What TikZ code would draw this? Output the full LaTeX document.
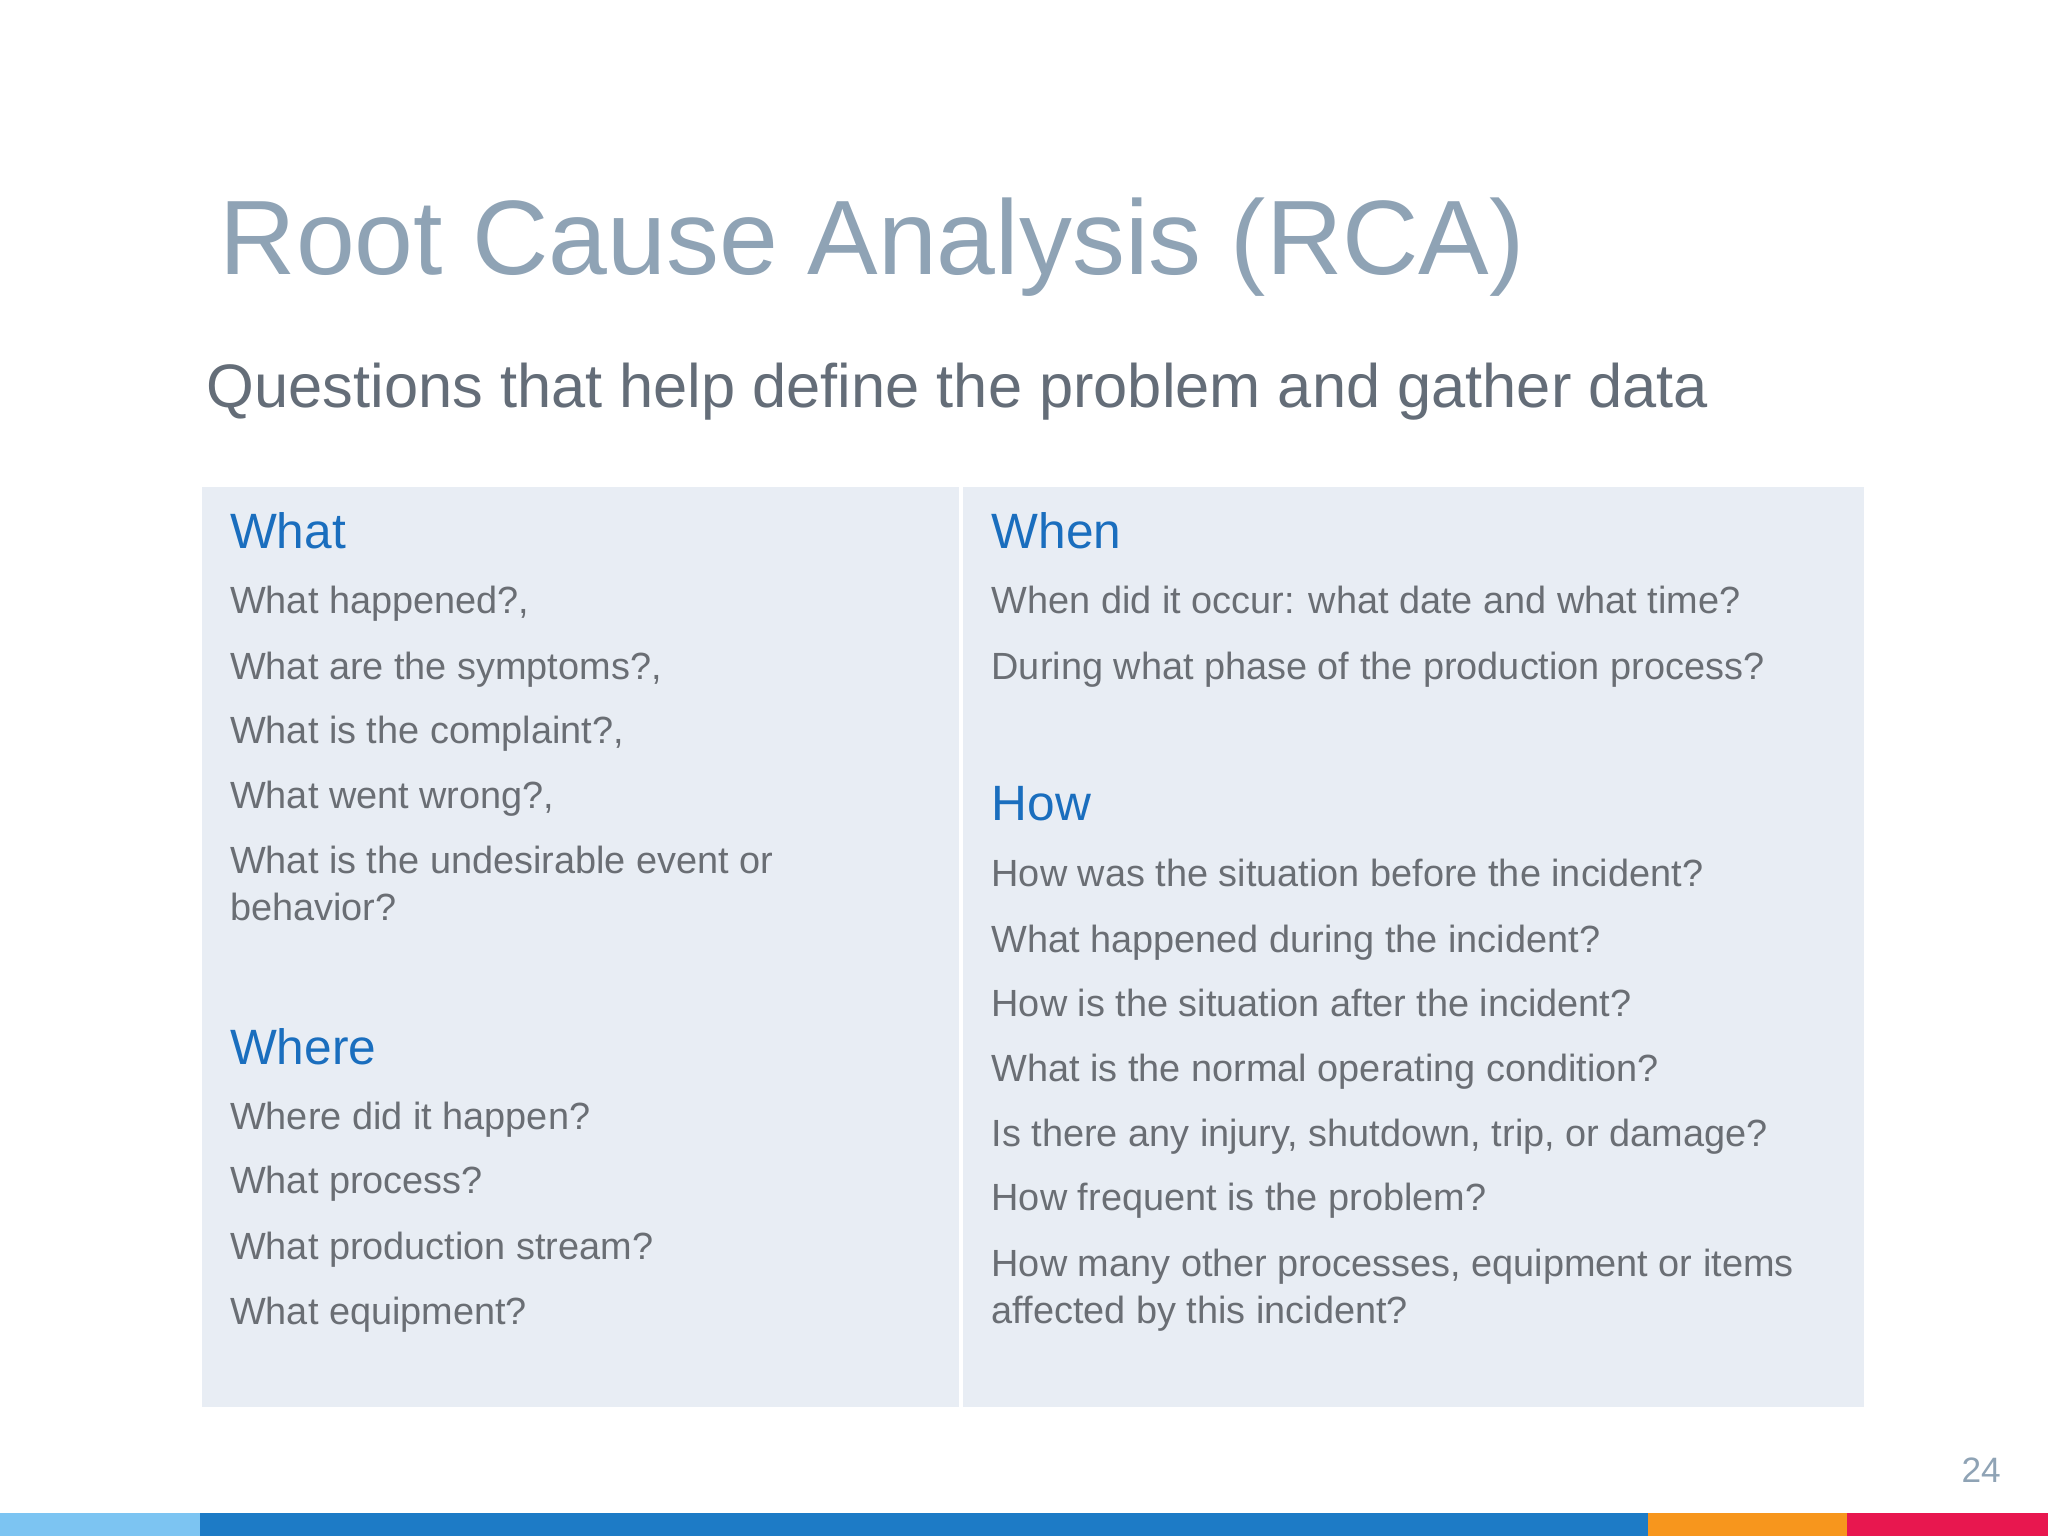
\documentclass[tikz,border=0pt]{standalone}
\usepackage{fontspec}
\setmainfont{Liberation Sans}
\definecolor{titlec}{HTML}{8FA3B5}
\definecolor{subc}{HTML}{646D78}
\definecolor{panelc}{HTML}{E8EDF4}
\definecolor{headc}{HTML}{1A6EBE}
\definecolor{bodyc}{HTML}{6A6E74}
\definecolor{barA}{HTML}{7CC4F2}
\definecolor{barB}{HTML}{1D7BC6}
\definecolor{barC}{HTML}{F7961D}
\definecolor{barD}{HTML}{E8174F}
\begin{document}
\begin{tikzpicture}[x=1pt,y=-1pt,
  head/.style={anchor=base west,inner sep=0pt,text=headc,font=\fontsize{38}{44}\selectfont},
  body/.style={anchor=base west,inner sep=0pt,text=bodyc,font=\fontsize{29}{36}\selectfont},
  panel/.style={fill=panelc,draw=none}]
\useasboundingbox[fill=white] (0,0) rectangle (1568,1176);
\node[anchor=base west,inner sep=0pt,text=titlec,font=\fontsize{81}{90}\selectfont] (title) at (168,210) {Root Cause Analysis (RCA)};
\node[anchor=base west,inner sep=0pt,text=subc,font=\fontsize{47}{54}\selectfont] (sub) at (158,312) {Questions that help define the problem and gather data};
\fill[panelc] (155,373) rectangle (734,1077);
\fill[panelc] (737,373) rectangle (1427,1077);
\node[head] (h1) at (176,420) {What};
\node[body] (a1) at (176,470) {What happened?,};
\node[body] (a2) at (176,520) {What are the symptoms?,};
\node[body] (a3) at (176,569) {What is the complaint?,};
\node[body] (a4) at (176,619) {What went wrong?,};
\node[body] (a5) at (176,669) {What is the undesirable event or};
\node[body] (a6) at (176,705) {behavior?};
\node[head] (h2) at (176,815) {Where};
\node[body] (b1) at (176,865) {Where did it happen?};
\node[body] (b2) at (176,914) {What process?};
\node[body] (b3) at (176,964) {What production stream?};
\node[body] (b4) at (176,1014) {What equipment?};
\node[head] (h3) at (759,420) {When};
\node[body] (c1) at (759,470) {When did it occur: what date and what time?};
\node[body] (c2) at (759,520) {During what phase of the production process?};
\node[head] (h4) at (759,628) {How};
\node[body] (d1) at (759,679) {How was the situation before the incident?};
\node[body] (d2) at (759,729) {What happened during the incident?};
\node[body] (d3) at (759,778) {How is the situation after the incident?};
\node[body] (d4) at (759,828) {What is the normal operating condition?};
\node[body] (d5) at (759,878) {Is there any injury, shutdown, trip, or damage?};
\node[body] (d6) at (759,927) {How frequent is the problem?};
\node[body] (d7) at (759,977) {How many other processes, equipment or items};
\node[body] (d8) at (759,1013) {affected by this incident?};
\node[anchor=base east,inner sep=0pt,text=titlec,font=\fontsize{27}{30}\selectfont] (pg) at (1532,1135) {24};
\fill[barA] (0,1158) rectangle (153,1176);
\fill[barB] (153,1158) rectangle (1262,1176);
\fill[barC] (1262,1158) rectangle (1414,1176);
\fill[barD] (1414,1158) rectangle (1568,1176);
\end{tikzpicture}
\end{document}
